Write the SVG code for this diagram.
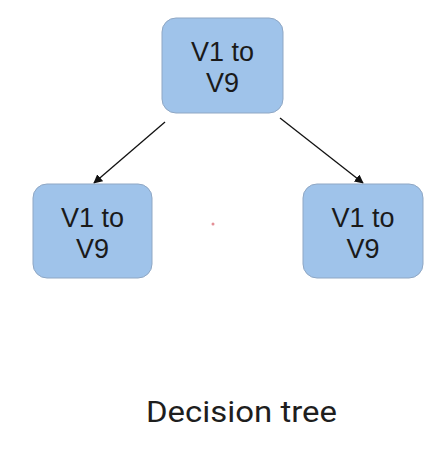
<svg xmlns="http://www.w3.org/2000/svg" width="448" height="458" viewBox="0 0 448 458">
<style>
.box{fill:#9fc3ea;stroke:#8fa7c4;stroke-width:1}
.lbl{font-family:"Liberation Sans",Arial,sans-serif;font-size:27px;fill:#1a1a1a;text-anchor:middle}
.edge{stroke:#111;stroke-width:1.3;fill:none}
.title{font-family:Roboto,"Liberation Sans",sans-serif;font-size:30px;fill:#1e1e1e}
</style>
<defs>
<marker id="arr" viewBox="0 0 10 10" refX="9" refY="5" markerWidth="9" markerHeight="9" markerUnits="userSpaceOnUse" orient="auto">
<path d="M0,0 L10,5 L0,10 z" fill="#111"/>
</marker>
</defs>
<rect width="448" height="458" fill="#fff"/>
<g id="connectors">
<line class="edge" x1="165" y1="122" x2="94" y2="183" marker-end="url(#arr)"/>
<line class="edge" x1="280" y1="118" x2="363" y2="183" marker-end="url(#arr)"/>
</g>
<g id="root">
<rect class="box" x="162" y="18" width="121" height="95" rx="14"/>
<text class="lbl" x="222.5" y="61">V1 to</text>
<text class="lbl" x="222.5" y="92">V9</text>
</g>
<g id="left">
<rect class="box" x="33" y="184" width="119" height="94" rx="14"/>
<text class="lbl" x="92.5" y="227">V1 to</text>
<text class="lbl" x="92.5" y="258">V9</text>
</g>
<g id="right">
<rect class="box" x="303" y="184" width="120" height="94" rx="14"/>
<text class="lbl" x="363" y="227">V1 to</text>
<text class="lbl" x="363" y="258">V9</text>
</g>
<circle cx="213" cy="224" r="1.5" fill="#d9606a" opacity="0.7"/>
<text class="title" x="146" y="422" textLength="191" lengthAdjust="spacingAndGlyphs">Decision tree</text>
</svg>
